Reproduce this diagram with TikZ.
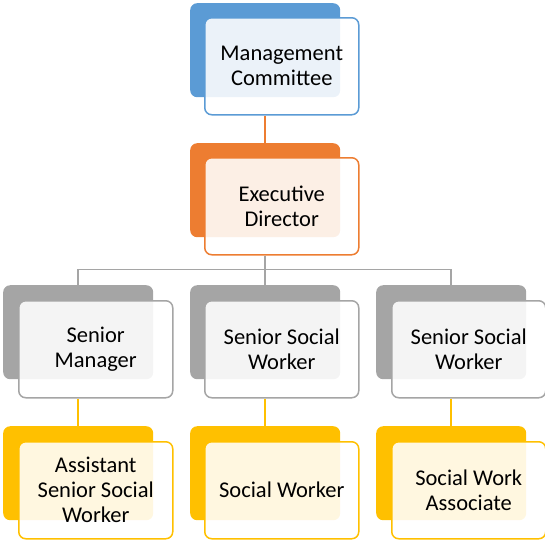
\documentclass[tikz,border=0pt]{standalone}
\usepackage{fontspec}
\setmainfont{Carlito}
\usetikzlibrary{positioning}
\definecolor{mgmtblue}{HTML}{5B9BD5}
\definecolor{execorange}{HTML}{ED7D31}
\definecolor{staffgray}{HTML}{A5A5A5}
\definecolor{workergold}{HTML}{FFC000}
\tikzset{
    back/.style={rectangle, rounded corners=7pt, minimum width=150pt, minimum height=94pt, inner sep=0pt},
    front/.style={rectangle, rounded corners=7pt, draw, line width=1.5pt, fill=white, fill opacity=0.88, text opacity=1,
        minimum width=154pt, minimum height=97pt, align=center, inner sep=0pt, font=\fontsize{22.5}{25}\selectfont},
    link/.style={line width=1.5pt}
}

\begin{document}
\begin{tikzpicture}[x=1pt, y=-1pt]
    \useasboundingbox (0,0) rectangle (545,539);

    % Level 1: Management Committee
    \node[back, fill=mgmtblue, anchor=north west] (mc-b) at (190,3) {};
    \node[front, draw=mgmtblue, below right=14pt and 14pt of mc-b.north west] (mc) {Management\\Committee};

    % Level 2: Executive Director
    \node[back, fill=execorange, anchor=north west] (ed-b) at (190,143) {};
    \node[front, draw=execorange, below right=14pt and 14pt of ed-b.north west] (ed) {Executive\\Director};

    % Level 3: managers and social workers
    \node[back, fill=staffgray, anchor=north west] (sm-b) at (3,285) {};
    \node[front, draw=staffgray, below right=15pt and 15pt of sm-b.north west] (sm) {Senior\\Manager};
    \node[back, fill=staffgray, anchor=north west] (ssw1-b) at (190,285) {};
    \node[front, draw=staffgray, below right=15pt and 14pt of ssw1-b.north west] (ssw1) {Senior Social\\Worker};
    \node[back, fill=staffgray, anchor=north west] (ssw2-b) at (376,285) {};
    \node[front, draw=staffgray, below right=15pt and 15pt of ssw2-b.north west] (ssw2) {Senior Social\\Worker};

    % Level 4: workers
    \node[back, fill=workergold, anchor=north west] (assw-b) at (3,426) {};
    \node[front, draw=workergold, below right=15pt and 15pt of assw-b.north west] (assw) {Assistant\\Senior Social\\Worker};
    \node[back, fill=workergold, anchor=north west] (sw-b) at (190,426) {};
    \node[front, draw=workergold, below right=15pt and 14pt of sw-b.north west] (sw) {Social Worker};
    \node[back, fill=workergold, anchor=north west] (swa-b) at (376,426) {};
    \node[front, draw=workergold, below right=15pt and 15pt of swa-b.north west] (swa) {Social Work\\Associate};

    % Connectors
    \draw[link, execorange] (mc-b.south |- mc.south) -- (ed-b.north);
    \draw[link, staffgray] (ed-b.south |- ed.south) -- ++(0,14) -| (sm-b.north);
    \draw[link, staffgray] (ed-b.south |- ed.south) -- ++(0,14) -| (ssw1-b.north);
    \draw[link, staffgray] (ed-b.south |- ed.south) -- ++(0,14) -| (ssw2-b.north);
    \draw[link, workergold] (sm-b.south |- sm.south) -- (assw-b.north);
    \draw[link, workergold] (ssw1-b.south |- ssw1.south) -- (sw-b.north);
    \draw[link, workergold] (ssw2-b.south |- ssw2.south) -- (swa-b.north);
\end{tikzpicture}
\end{document}
